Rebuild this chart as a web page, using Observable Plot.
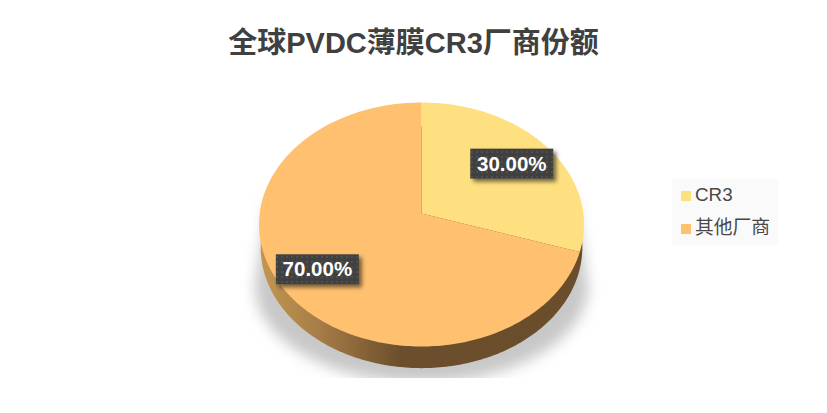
<!DOCTYPE html>
<html><head><meta charset="utf-8">
<script src="https://cdn.jsdelivr.net/npm/d3@7"></script>
<script src="https://cdn.jsdelivr.net/npm/@observablehq/plot@0.6"></script>
<style>
html,body{margin:0;padding:0;background:#fff;font-family:"Liberation Sans","Noto Sans CJK SC",sans-serif;}
#page{position:relative;width:827px;height:413px;overflow:hidden;}
#title{height:80px;box-sizing:border-box;padding-top:24px;text-align:center;font-size:29px;line-height:38px;font-weight:bold;color:#404040;}
#legend{position:absolute;left:672px;top:179px;width:106px;height:66px;background:#fafafa;color:#484848;font-size:18.8px;}
#legend div{position:absolute;left:9px;white-space:nowrap;line-height:22px;height:22px;}
#legend i{display:inline-block;width:10px;height:10px;margin-right:4px;vertical-align:0px;}
svg{display:block;}
</style></head>
<body><div id="page"><div id="title"></div><div id="legend"></div></div>
<script>
const titleText = "全球PVDC薄膜CR3厂商份额";
const categories = ["CR3", "其他厂商"];
const shares = [30, 70];
const colors = ["#FFE081", "#FFC170"];
const labelRadius = [0.72, 0.76];

// pie projection: unit circle seen in perspective
const tilt = 0.09, pxX = 161.8, pxY = 121, cx = 421, cy = 133, W = 827, H = 333;
const project = (turn, r = 1, sx = 1, drop = 0) => {
  const a = turn * 2 * Math.PI, c = Math.sin(a) * r, s = -Math.cos(a) * r, d = 1 - tilt * s;
  return {x: sx * c / d, y: sx * s / d + drop};
};
const steps = d3.range(0, 361).map(i => i / 360);

// slices
const total = d3.sum(shares);
let acc = 0;
const slices = [], labels = [];
shares.forEach((v, i) => {
  const t0 = acc / total, t1 = (acc + v) / total;
  acc += v;
  const n = Math.ceil((t1 - t0) * 360);
  slices.push({name: categories[i], ...project(0, 0)});
  for (let j = 0; j <= n; j++) slices.push({name: categories[i], ...project(t0 + (t1 - t0) * j / n)});
  labels.push({name: categories[i], text: (v / total * 100).toFixed(2) + "%", ...project((t0 + t1) / 2, labelRadius[i])});
});

const rim = steps.map(t => project(t, 1, 0.99, 0.19));
const shadow = [
  {x: -0.95, y: -0.1}, {x: 0.95, y: -0.1},
  ...d3.range(0, 181, 3).map(i => {
    const a = i * Math.PI / 180;
    return {x: 1.03 * Math.cos(a), y: 0.6 + 0.8 * Math.sin(a)};
  })
];
const boxW = 41.5 / pxX, boxH = 15 / pxY;

const defs = () => {
  const d = d3.create("svg:defs");
  const g = d.append("linearGradient").attr("id", "side").attr("gradientUnits", "userSpaceOnUse")
    .attr("x1", 258).attr("x2", W).attr("y1", 0).attr("y2", 0);
  [[0, "#c39650"], [0.1, "#a97f49"], [0.25, "#6b4e2b"], [1, "#6a4c2a"]].forEach(([o, c]) =>
    g.append("stop").attr("offset", o).attr("stop-color", c));
  const p = d.append("pattern").attr("id", "dots").attr("patternUnits", "userSpaceOnUse")
    .attr("width", 5).attr("height", 5);
  p.append("rect").attr("width", 5).attr("height", 5).attr("fill", "#404040");
  p.append("rect").attr("x", 1).attr("y", 1).attr("width", 2).attr("height", 2).attr("fill", "#4f4f4f");
  const b = d.append("filter").attr("id", "blur").attr("x", "-10%").attr("y", "-10%").attr("width", "120%").attr("height", "120%");
  b.append("feGaussianBlur").attr("stdDeviation", 7);
  const s = d.append("filter").attr("id", "boxShadow").attr("x", "-20%").attr("y", "-30%").attr("width", "150%").attr("height", "180%");
  s.append("feDropShadow").attr("dx", 3).attr("dy", 3).attr("stdDeviation", 2).attr("flood-color", "#000").attr("flood-opacity", 0.55);
  d.append("clipPath").attr("id", "floor").append("rect").attr("x", 0).attr("y", 0).attr("width", W).attr("height", 298);
  return d.node();
};
const withAttr = (attrs) => (i, s, v, dim, ctx, next) => {
  const n = next(i, s, v, dim, ctx);
  for (const k in attrs) n.setAttribute(k, attrs[k]);
  return n;
};

const chart = Plot.plot({
  width: W, height: H, margin: 0,
  style: {background: "transparent", overflow: "visible"},
  x: {domain: [-cx / pxX, (W - cx) / pxX], range: [0, W], axis: null},
  y: {domain: [-cy / pxY, (H - cy) / pxY], range: [0, H], axis: null},
  color: {domain: categories, range: colors},
  marks: [
    defs,
    Plot.line(shadow, {x: "x", y: "y", fill: "#c8c8c8", stroke: null,
      render: (i, s, v, dim, ctx, next) => {
        const n = next(i, s, v, dim, ctx);
        n.setAttribute("filter", "url(#blur)");
        const w = document.createElementNS("http://www.w3.org/2000/svg", "g");
        w.setAttribute("clip-path", "url(#floor)");
        w.appendChild(n);
        return w;
      }}),
    Plot.line(rim, {x: "x", y: "y", fill: "url(#side)", stroke: null}),
    Plot.line(slices, {x: "x", y: "y", z: "name", fill: "name", stroke: null}),
    Plot.rect(labels, {
      x1: d => d.x - boxW, x2: d => d.x + boxW, y1: d => d.y - boxH, y2: d => d.y + boxH,
      fill: "url(#dots)", render: withAttr({filter: "url(#boxShadow)"})
    }),
    Plot.text(labels, {x: "x", y: "y", text: "text", fill: "#fff", fontSize: 20.5, fontWeight: "bold", dx: -0.5,
      fontFamily: "'Liberation Sans',sans-serif"})
  ]
});
document.getElementById("page").insertBefore(chart, document.getElementById("legend"));
document.getElementById("title").textContent = titleText;
const lg = d3.select("#legend");
categories.forEach((c, i) => {
  const row = lg.append("div").style("top", (i === 0 ? 5 : 38) + "px");
  row.append("i").style("background", colors[i]);
  row.append("span").text(c);
});
</script></body></html>
